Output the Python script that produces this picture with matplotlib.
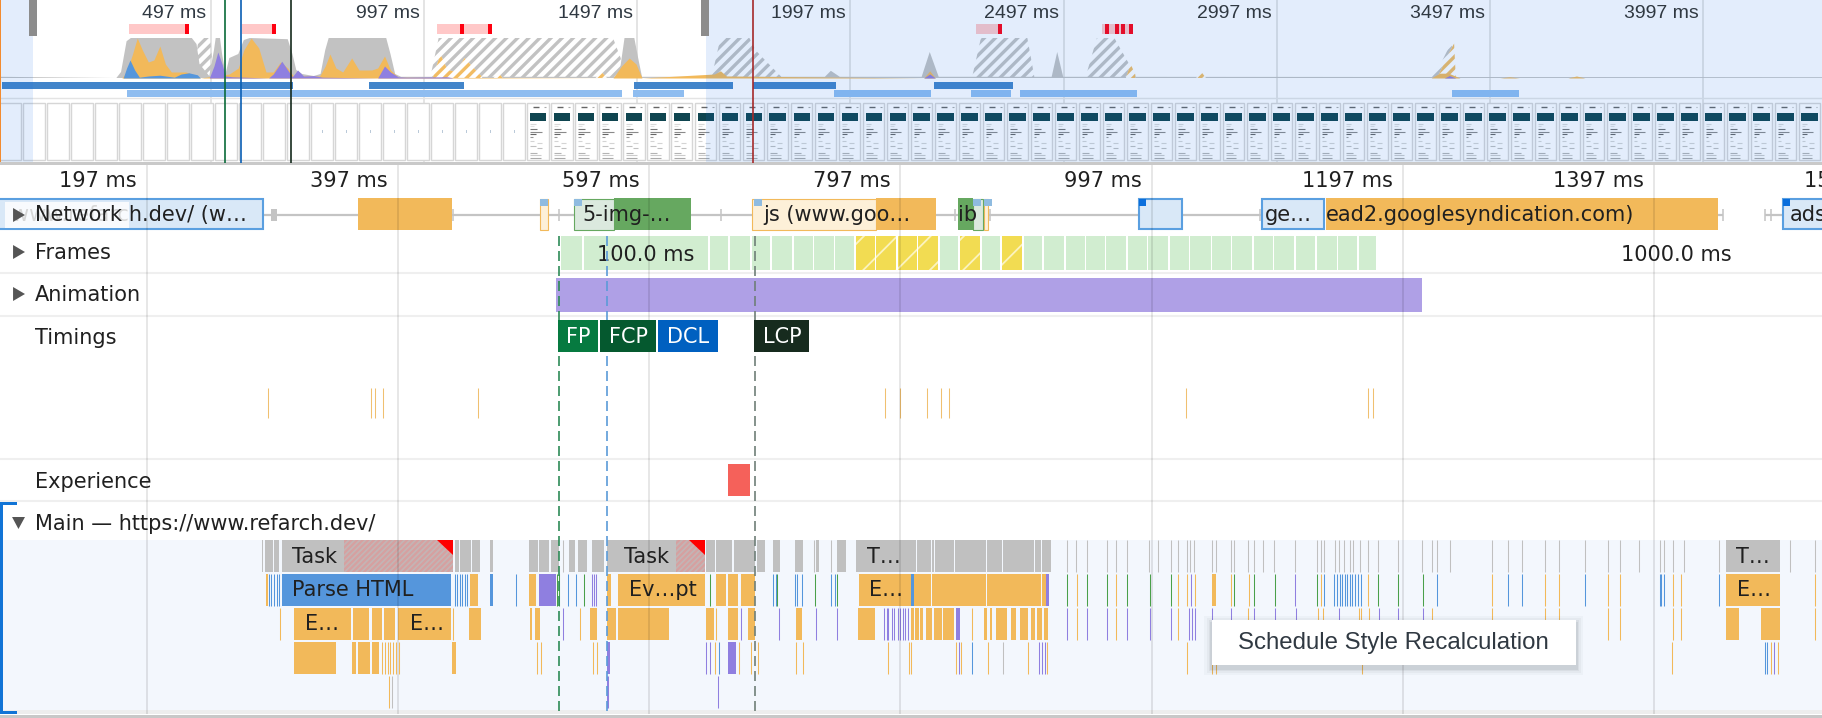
# devtools performance panel, overview strip + flame chart
import matplotlib as mp
mp.use('Agg')
import matplotlib.pyplot as plt
from matplotlib.patches import Rectangle

# ---- overview (ms)
ov_ticks = [497, 997, 1497, 1997, 2497, 2997, 3497, 3997]
grey_t = [2, 275, 286, 299, 309, 452, 463, 470, 493, 504, 508, 518, 523, 531, 540, 561, 574, 588, 677, 688, 697, 711, 738, 754, 765, 773, 908, 918, 929, 943, 1454, 1467, 1490, 1499, 1508, 1937, 1951, 1972, 2164, 2183, 2204, 2469, 2482, 2496, 4276]
grey_v = [3, 0, 15, 92, 100, 100, 85, 35, 5, 70, 100, 100, 60, 10, 50, 60, 95, 100, 97, 60, 20, 10, 5, 10, 70, 100, 100, 60, 10, 3, 3, 100, 100, 50, 3, 3, 18, 3, 3, 65, 3, 3, 65, 3, 2]
hatch_t = [[463, 468, 495, 500, 504], [1011, 1031, 1440, 1458, 1467], [1672, 1692, 1760, 1774, 1801, 1835], [2282, 2303, 2412, 2428], [2548, 2575, 2616, 2664, 2667], [3359, 3379, 3407, 3415]]
hatch_v = [[60, 100, 100, 40, 0], [0, 100, 100, 50, 0], [5, 100, 100, 70, 40, 3], [0, 100, 100, 5], [0, 100, 100, 10, 0], [0, 30, 90, 20]]
hatch_o_t = [[1017, 1035, 1052, 1072, 1092, 1113, 1133], [1160, 1170, 1181], [1399, 1413, 1426], [2643, 2654, 2665], [2808, 2818, 2831], [3373, 3400, 3413, 3417]]
hatch_o_v = [[0, 60, 20, 15, 50, 25, 3], [0, 15, 0], [0, 15, 0], [0, 35, 10], [0, 18, 0], [0, 60, 87, 0]]
orange_t = [288, 299, 313, 324, 336, 350, 363, 377, 390, 404, 438, 465, 472, 540, 561, 574, 591, 609, 626, 643, 660, 677, 690, 718, 752, 765, 776, 790, 806, 827, 844, 874, 888, 904, 918, 936, 1440, 1460, 1478, 1494, 1508, 1678, 1692, 1706, 2169, 2183, 2196, 3359, 3379, 3400, 3427, 3520, 3543, 3566, 3680, 3700, 3720]
orange_v = [0, 15, 60, 100, 70, 40, 45, 80, 35, 15, 15, 5, 0, 10, 25, 70, 100, 75, 15, 15, 40, 25, 5, 5, 5, 30, 60, 25, 15, 50, 20, 20, 25, 55, 20, 2, 0, 30, 50, 35, 0, 10, 18, 5, 0, 18, 0, 0, 12, 12, 0, 0, 3, 0, 0, 5, 0]
purple_t = [493, 504, 513, 523, 531, 547, 632, 643, 663, 677, 688, 700, 714, 738, 758, 888, 904, 918, 936, 956, 1052, 1065, 2169, 2183, 2196, 3390, 3402, 3417]
purple_v = [0, 30, 65, 35, 5, 3, 0, 10, 42, 20, 3, 20, 5, 6, 2, 0, 30, 15, 3, 2, 3, 0, 0, 10, 0, 0, 6, 0]
blue_t = [291, 299, 307, 318, 329, 350, 377, 411, 427, 445, 465, 472]
blue_v = [0, 25, 45, 20, 2, 5, 7, 2, 10, 13, 8, 0]
long_tasks = [(305, 445), (569, 649.5), (1027, 1156.5), (2292, 2353), (2587.4, 2659.7)]
long_task_red = [(435.5, 445), (640, 649.5), (1082, 1091), (1147, 1156.5), (2343.5, 2353), (2594, 2604), (2617.4, 2627), (2631, 2642), (2650, 2659.7)]
ov_net_dark = [(6, 690), (868, 1091), (1489, 1722), (1768, 1963), (2193.5, 2379)]
ov_net_light = [(300.5, 1462), (1488, 1606), (1958, 2185), (2279, 2373), (2395, 2669), (3408, 3565)]
ov_marks = [(529.5, '#0a6b3a'), (567.7, '#0a5fb4'), (685, '#152a1d'), (1768, '#a52a2a')]
film_t = [0.2, 56.5, 112.8, 169, 225.3, 281.6, 337.9, 394.2, 450.4, 506.7, 563, 619.3, 675.6, 731.8, 788.1, 844.4, 900.7, 957, 1013.2, 1069.5, 1125.8, 1182.1,
          1238.4, 1294.6, 1350.9, 1407.2, 1463.5, 1519.8, 1576, 1632.3, 1688.6, 1744.9, 1801, 1857.4, 1913.7, 1970, 2026.3, 2082.6, 2138.8, 2195, 2251.4, 2307.7,
          2364, 2420.2, 2476.5, 2532.8, 2589, 2645.4, 2701.6, 2758, 2814.2, 2870.5, 2926.8, 2983, 3039.3, 3095.6, 3151.9, 3208.2, 3264.4, 3320.7, 3377, 3433.3,
          3489.6, 3545.8, 3602, 3658.4, 3714.7, 3771, 3827.2, 3883.5, 3939.8, 3996, 4052.4, 4108.6, 4164.9, 4221.2]
n_blank = 22

# ---- main timeline (ms)
main_ticks = [197, 397, 597, 797, 997, 1197, 1397, 1597]
net_whisker = [(289.5, 365), (440, 510), (516.3, 537.1), (630.6, 679.2), (825.4, 842.5), (867, 986.9), (1021.2, 1085), (1448.3, 1452.5), (1485.8, 1499.7)]
net_caps = [440.5, 525, 653.8, 840.2, 868, 1083.2, 1452.5, 1485.8, 1490.4]
net_blue = [(70, 289.5), (986.9, 1021.2), (1085, 1134.5), (1499.7, 1545)]
net_orange_pale = [(510, 516.3), (679.2, 777.8), (863.4, 867)]
net_orange = [(365, 440), (777.8, 825.4), (1136, 1448.3)]
net_green_pale = [(537.1, 569), (855, 862.4)]
net_green = [(569, 630.6), (842.5, 855)]
net_corner = [510, 537.1, 680.5, 855, 863.4]
net_corner_dark = [986.9, 1499.7]
frames_green = [(527, 543.5), (545, 643.8), (645.2, 660), (661.4, 677), (678.5, 693.4), (694.7, 710.9), (712.3, 727.2), (728.5, 743.8), (745.2, 760.2),
                (828.6, 842.5), (862, 876.3), (895.3, 909.6), (911.5, 927), (928.6, 944), (944.8, 960), (961, 977), (978, 993.2), (994.3, 1010.3), (1011.4, 1026.6),
                (1027.6, 1044), (1045.2, 1060.3), (1061.4, 1077.4), (1078.6, 1093.7), (1094.8, 1110.7), (1111.9, 1127.2), (1128.5, 1144.5), (1145.7, 1160.7), (1161.9, 1175.7)]
frames_yellow = [(761.4, 777), (777.4, 793.3), (794.8, 810.5), (811, 826.8), (844.4, 860.6), (878.2, 893.9)]
animation = (523, 1212.8)
timing_names = ['FP', 'FCP', 'DCL', 'LCP']
timing_spans = [(524.2, 556.1), (558, 602.4), (604.3, 651.9), (680.6, 724.6)]
timing_colors = ['#067a40', '#05592f', '#0060c0', '#172b1e']
timing_lines = [(525, '#2e8b57'), (563, '#5b9bd8'), (681.5, '#6f7f78')]
user_ticks = [293.4, 375.4, 378.6, 385, 460.6, 784.8, 796.8, 818.3, 829.4, 835.8, 1024.6, 1169.5, 1173.5]
layout_shift = (659.9, 676.9)

task_blocks = [(288.6, 289.6), (291, 297), (298, 302), (304.3, 440.9), (442.3, 445.5), (446.4, 454.8), (455.7, 462.2), (470, 472.3), (501, 508), (508.9, 517.2), (518.6, 525.1),
               (533.4, 538), (540.4, 547.3), (551, 561.2), (563.5, 641.7), (642.2, 649.2), (650.5, 663), (664.4, 681.5), (682.9, 689), (695.4, 701), (713, 719.5), (730, 732.4), (746.3, 753.3),
               (761.6, 809.8), (810.4, 821.4), (822, 823.7), (824.3, 833.9), (834.5, 839.9), (840.5, 852.9), (853.5, 865.4), (866, 878.3), (878.9, 896.8), (897.4, 903.3), (903.9, 909.3), (909.9, 916.6), (1454.8, 1497.4)]
task_long = [(353.9, 440.9), (618.6, 641.7)]
task_ticks = [527.9, 727.8, 741.7, 929.5, 936.5, 945.3, 961.9, 968.9, 977.7, 995.2, 1002.2, 1012.4, 1018.4, 1025.3, 1027.6, 1030.9, 1045.2, 1048.5, 1060, 1062.4, 1073.9, 1078.5, 1085.5, 1094.7,
              1111, 1128.5, 1131.8, 1134.1, 1143.3, 1146.6, 1150.3, 1154.9, 1157.2, 1163.3, 1169.7, 1177.1, 1193.3, 1212.8, 1220.6, 1224.3, 1235, 1268.3, 1281.3, 1292.4, 1310, 1321.5, 1342.3,
              1360.9, 1370.1, 1384.9, 1401.6, 1404.8, 1412.7, 1421, 1448.8, 1505.7, 1525.2]

r1_orange = [(291.9, 293.7), (454.3, 460.3), (501, 506.6), (563.5, 566.8), (572.3, 641.7), (650, 658.4), (659.8, 667.7), (669.9, 681.5), (763.9, 805.5), (808, 821.4), (822, 833.9), (834.5, 852.9),
             (853.5, 865.4), (866, 896.8), (897.4, 909.3), (909.9, 912.9), (1044.8, 1048.5), (1454.8, 1497.4)]
r1_blue = [(304.3, 439), (470, 472.3), (805.5, 807.8)]
r1_purple = [(508.9, 522.8), (912.9, 915.6)]
r1_orange_ticks = [937.4, 968.9, 1018.4, 1025.3, 1031.3, 1060, 1074.4, 1131.8, 1169.7, 1268.3, 1310, 1321.5, 1360.9, 1370.1, 1412.7, 1418.8, 1525.2]
r1_blue_ticks = [294.2, 296, 297.9, 300.2, 302, 442.3, 444, 446, 448, 450, 451.5, 490.9, 532.5, 539, 695.4, 698, 713, 715, 718.5, 741.7, 745, 1134.1, 1142.4, 1144.5, 1147, 1149, 1151, 1153, 1155,
                 1157, 1159, 1161.5, 1164, 1224.3, 1281.3, 1292.4, 1342.3, 1401.6, 1403, 1404.9, 1448.8]
r1_purple_ticks = [551, 552.9, 554.7, 1028.6, 1111]
r1_green_ticks = [523.5, 525.5, 545, 645.4, 699.1, 728.7, 746.3, 929.5, 945.3, 961.9, 977.7, 995.7, 1012.4, 1062.4, 1079, 1095.2, 1128.5, 1177.1, 1193.3, 1213.2]

r2_orange = [(314.1, 359.4), (361.3, 373.8), (376.1, 384), (385.8, 394.6), (396.9, 439), (453.4, 463.1), (502, 503.8), (505.7, 510.3), (549.6, 555.2), (563.5, 570.5), (572.3, 613), (642.2, 648.2),
             (659.8, 667.7), (676, 681.5), (714, 718.5), (763.5, 776.4), (805.5, 808), (809, 811.5), (812.5, 815), (817, 822.5), (824, 830), (831, 840), (863.4, 866), (868, 870), (873, 882), (885, 889),
             (892, 899), (901, 904), (905.5, 910), (911, 914.3), (1454.8, 1465), (1482.1, 1497.4)]
r2_purple = [(841.6, 844.8)]
r2_orange_ticks = [303, 440.9, 541.8, 650, 854.1, 937.4, 968.9, 1018.4, 1073.9, 1129.5, 1133.2, 1161.9, 1164.2, 1170.2, 1220.6, 1268.3, 1310, 1321.5, 1360.9, 1370.1, 1412.7, 1418.8, 1525.2]
r2_purple_ticks = [527.9, 669.9, 700, 730.1, 746.3, 784.3, 786, 787.5, 790, 792, 795, 797, 799, 801, 803, 929.5, 945.3, 961.9, 977.7, 995.7, 1012.4, 1026.7, 1029, 1031.3, 1044.8, 1060, 1079, 1095.2,
                   1112.3, 1146.1, 1178, 1193.3, 1213.2]

r3_orange = [(314.1, 347.4), (360.4, 363.1), (365, 374.2), (376.1, 381.6), (440, 442.7)]
r3_purple = [(563.5, 565.9), (659.8, 665.8)]
r3_orange_ticks = [384.4, 386.3, 388.6, 390.9, 393.2, 395.5, 397.8, 507.5, 510.8, 552, 555.2, 649.2, 668.6, 677.8, 683.8, 714, 719.5, 787, 804.2, 805.5, 841.6, 845.3, 867, 899, 913.8, 1024.9, 1044.8, 1048.5,
                   1164.6, 1411.8, 1490.4, 1496]
r3_purple_ticks = [642.2, 645, 843.9, 907.3, 910.1, 911.9, 1492.8]
r3_blue_ticks = [652.4, 854.1, 1485.8, 1487]
r3_grey_ticks = [878.6]

r4_orange_ticks = [389.5]
r4_grey_ticks = [392.3]
r4_purple_ticks = [563.5, 564.4, 651.9]

GREY, ORANGE, BLUE, PURPLE, GREEN = '#c0c0c0', '#f2b95a', '#5596dc', '#8f7fe0', '#4aa04a'
UI = 'DejaVu Sans'
INK = '#202020'
ROW0, ROW1, ROW2, ROW3, ROW4 = (540, 572), (574, 606), (608, 640), (642, 674), (676, 708)
H = 718.0


def bars(ax, spans, y, color, z=2, **kw):
    ax.broken_barh([(a, b - a) for a, b in spans], (y[0], y[1] - y[0]), facecolors=color, linewidth=0, zorder=z, **kw)


def ticks(ax, xs, y, color, z=2, lw=0.75):
    ax.vlines(xs, y[0], y[1], colors=color, linewidth=lw, zorder=z)


def pane(y0, y1, xlim, ylim, z):
    ax = fig.add_axes([0, 1 - y1 / H, 1, (y1 - y0) / H])
    ax.set_xlim(*xlim)
    ax.set_ylim(*ylim)
    ax.axis('off')
    ax.set_zorder(z)
    return ax


fig = plt.figure(figsize=(18.22, 7.18), dpi=100)
OV = (2.05, 4276)
MAIN = (79.9, 1531)

# ------------ overview
ax_ov = pane(0, 165, OV, (165, 0), 1)
ax_cpu = pane(38, 78, OV, (0, 100), 2)
ax_ovt = pane(0, 165, OV, (165, 0), 3)

for t in ov_ticks:
    ax_ov.vlines(t, 0, 163, colors='#dcdcdc', linewidth=1.1, zorder=1)

bars(ax_ov, long_tasks, (24, 34), '#ffc8c8')
bars(ax_ov, long_task_red, (24, 34), '#ff0010', z=3)
bars(ax_ov, ov_net_dark, (82, 89), '#4285ca')
bars(ax_ov, ov_net_light, (90, 97), '#8fbdf0')
ax_ov.hlines(97.5, *OV, colors='#e4e4e4', linewidth=1)

# thumbnails
fw = 50.4
for i, t in enumerate(film_t):
    ax_ov.add_patch(Rectangle((t, 102.5), fw, 57, facecolor='white', edgecolor='#d6d6d6', linewidth=1, zorder=2))
    if i < n_blank:
        if i > 12:
            ax_ov.plot([t + 25, t + 25], [130, 132], color='#b8c8d8', lw=0.7, zorder=3)
        continue
    ax_ov.add_patch(Rectangle((t + 6, 113), fw - 12, 8, facecolor='#0f4550', linewidth=0, zorder=3))
    ax_ov.hlines(106.5, t + 14, t + 28, colors='#666666', linewidth=1, zorder=3)
    ax_ov.hlines(106.5, t + 40, t + 44, colors='#aaaaaa', linewidth=0.8, zorder=3)
    for y, c, a, b in [(124, '#d8d8d8', 8, 20), (126, '#e2e2e2', 8, 16), (129, '#777777', 8, 24), (131.5, '#8a8a8a', 8, 34), (134, '#666666', 8, 20), (136.5, '#999999', 8, 13),
                       (141, '#d4d4d4', 8, 16), (143, '#d4d4d4', 24, 36), (146, '#c0c0c0', 8, 20), (148, '#c0c0c0', 24, 36), (152.5, '#b4b4b4', 8, 24), (154.5, '#cccccc', 8, 32), (158, '#aaaaaa', 8, 32)]:
        ax_ov.hlines(y, t + a, t + b, colors=c, linewidth=0.8, zorder=3)

# activity
mp.rcParams['hatch.linewidth'] = 2.4
ax_cpu.fill_between(grey_t, 0, grey_v, color='#c2c2c2', linewidth=0, zorder=1)
for xs, vs in zip(hatch_t, hatch_v):
    ax_cpu.fill_between(xs, 0, vs, facecolor='none', edgecolor='#c2c2c2', hatch='///', linewidth=0, zorder=1)
for xs, vs in zip(hatch_o_t, hatch_o_v):
    ax_cpu.fill_between(xs, 0, vs, facecolor='white', edgecolor=ORANGE, hatch='///', linewidth=0, zorder=2, alpha=0.95)
ax_cpu.fill_between(orange_t, 0, orange_v, color=ORANGE, linewidth=0, zorder=3)
ax_cpu.fill_between(blue_t, 0, blue_v, color=BLUE, linewidth=0, zorder=4)
ax_cpu.fill_between(purple_t, 0, purple_v, color=PURPLE, linewidth=0, zorder=5)

# selection tint, handles, markers, labels on top
ax_ovt.add_patch(Rectangle((2.05, 0), 77.4, 163, facecolor='#1a73e8', alpha=0.12, linewidth=0, zorder=1))
ax_ovt.add_patch(Rectangle((1657, 0), 2700, 163, facecolor='#1a73e8', alpha=0.12, linewidth=0, zorder=1))
bars(ax_ovt, [(70, 89), (1647, 1666)], (0, 36), '#8c8c8c', z=2)
bars(ax_ovt, [(2.05, 5.5)], (0, 163), '#f28b30', z=2)
for t, c in ov_marks:
    ax_ovt.vlines(t, 0, 163, colors=c, linewidth=1.2, zorder=4)
for t in ov_ticks:
    ax_ovt.text(t - 11, 13, f'{t} ms', ha='right', va='center', fontsize=14, family='Liberation Sans', color='#303942', zorder=5)
bars(ax_ovt, [OV], (162, 165), '#c9c9c9', z=3)

# ------------ main timeline
ax = pane(165, 718, MAIN, (718, 165), 4)

for y in [272.5, 315.5, 459, 501]:
    ax.hlines(y, *MAIN, colors='#efefef', linewidth=1.5, zorder=1)

bars(ax, [MAIN], (540, 710), '#f3f7fd', z=0)
bars(ax, [MAIN], (710, 714), '#ededed', z=0)
bars(ax, [MAIN], (714.5, 718), '#c8c8c8', z=9)

for t in main_ticks:
    ax.text(t - 8, 181, f'{t} ms', ha='right', va='center', fontsize=15, family=UI, color=INK, clip_on=True)
    ax.vlines(t, 165, 714, colors='#000000', alpha=0.12, linewidth=1.1, zorder=6)

# network row
NET = (198, 230)
for a, b in net_whisker:
    ax.hlines(215, a, b, colors='#c4c4c4', linewidth=1.6, zorder=1)
ax.vlines(net_caps, 209, 221, colors='#c4c4c4', linewidth=1.1, zorder=1)
bars(ax, [(295.6, 300.7)], (209, 221), '#c4c4c4', z=1)
for a, b in net_blue:
    ax.add_patch(Rectangle((a, 199), b - a, 30, facecolor='#d9e8f7', edgecolor='#5a9fe0', linewidth=1.5, zorder=2))
for a, b in net_orange_pale:
    ax.add_patch(Rectangle((a, 199), b - a, 31, facecolor='#fdf0d8', edgecolor=ORANGE, linewidth=0.8, zorder=2))
for a, b in net_green_pale:
    ax.add_patch(Rectangle((a, 199), b - a, 31, facecolor='#dbe9de', edgecolor='#66a860', linewidth=0.8, zorder=2))
bars(ax, net_orange, NET, ORANGE, z=3)
bars(ax, net_green, NET, '#66a860', z=3)
bars(ax, [(a, a + 6.2) for a in net_corner], (199, 206), '#8fbbe0', z=4)
bars(ax, [(a, a + 5.5) for a in net_corner_dark], (199, 206), '#0a6edc', z=4)
for t, s in [(544.1, '5-img-…'), (687.5, 'js (www.goo…'), (842.5, 'ib'), (1086.9, 'ge…'), (1136, 'ead2.googlesyndication.com)'), (1505.7, 'ads')]:
    ax.text(t, 215, s, va='center', fontsize=15, family=UI, color=INK, zorder=5, clip_on=True)
ax.text(276.5, 215, 'www.refarch.dev/ (w…', ha='right', va='center', fontsize=15, family=UI, color=INK, zorder=5)
ax.add_patch(Rectangle((83.9, 202), 98.7, 26, facecolor='white', alpha=0.82, linewidth=0, zorder=6))

# frames
FR = (236, 270)
bars(ax, frames_green, FR, '#d1edd0')
mp.rcParams['hatch.linewidth'] = 1.3
for a, b in frames_yellow:
    ax.add_patch(Rectangle((a, 236), b - a, 34, facecolor='#f2dc52', edgecolor='#fbf3c0', hatch='/', linewidth=0, zorder=2))
ax.text(555.7, 255, '100.0 ms', va='center', fontsize=15, family=UI, color=INK, zorder=5)
ax.text(1371, 255, '1000.0 ms', va='center', fontsize=15, family=UI, color=INK, zorder=5)

# animation, timings, experience
bars(ax, [animation], (278, 312), '#afa0e6')
for name, (a, b), c in zip(timing_names, timing_spans, timing_colors):
    bars(ax, [(a, b)], (320, 352), c, z=8)
    ax.text((a + b) / 2, 337, name, ha='center', va='center', fontsize=15, family=UI, color='white', zorder=8)
for t, c in timing_lines:
    ax.vlines(t, 236, 714, colors=c, linewidth=1.2, linestyles=(0, (6, 3)), zorder=7)
ticks(ax, user_ticks, (388, 418), '#f0c070')
bars(ax, [layout_shift], (464, 496), '#f5615a')

# flame rows
mp.rcParams['hatch.linewidth'] = 1.3
bars(ax, task_blocks, ROW0, GREY)
ticks(ax, task_ticks, ROW0, GREY)
for a, b in task_long:
    ax.add_patch(Rectangle((a, 540), b - a, 32, facecolor='#d6a0a0', edgecolor='#c4b4b4', hatch='//////', linewidth=0, zorder=3))
    ax.fill([b - 13, b, b], [540, 540, 555], color='#ff0000', linewidth=0, zorder=4)

bars(ax, r1_orange, ROW1, ORANGE)
bars(ax, r1_blue, ROW1, BLUE)
bars(ax, r1_purple, ROW1, PURPLE)
ticks(ax, r1_orange_ticks, ROW1, ORANGE)
ticks(ax, r1_blue_ticks, ROW1, BLUE)
ticks(ax, r1_purple_ticks, ROW1, PURPLE)
ticks(ax, r1_green_ticks, ROW1, GREEN)

bars(ax, r2_orange, ROW2, ORANGE)
bars(ax, r2_purple, ROW2, PURPLE)
ticks(ax, r2_orange_ticks, ROW2, ORANGE)
ticks(ax, r2_purple_ticks, ROW2, PURPLE)

bars(ax, r3_orange, ROW3, ORANGE)
bars(ax, r3_purple, ROW3, PURPLE)
ticks(ax, r3_orange_ticks, ROW3, ORANGE)
ticks(ax, r3_purple_ticks, ROW3, PURPLE)
ticks(ax, r3_blue_ticks, ROW3, BLUE)
ticks(ax, r3_grey_ticks, ROW3, GREY)

ticks(ax, r4_orange_ticks, ROW4, ORANGE)
ticks(ax, r4_grey_ticks, ROW4, GREY)
ticks(ax, r4_purple_ticks, ROW4, PURPLE)

for t, y, s in [(312.2, 557, 'Task'), (576.5, 557, 'Task'), (770.4, 557, 'T…'), (1462.7, 557, 'T…'),
                (312.7, 590.5, 'Parse HTML'), (581.1, 590.5, 'Ev…pt'), (771.8, 590.5, 'E…'), (1463.6, 590.5, 'E…'),
                (322.9, 624.5, 'E…'), (406.2, 624.5, 'E…')]:
    ax.text(t, y, s, va='center', fontsize=15, family=UI, color=INK, zorder=5)

# left column labels
for y, s in [(215, 'Network'), (253, 'Frames'), (295, 'Animation'), (338, 'Timings'), (482, 'Experience'), (524, 'Main — https://www.refarch.dev/')]:
    ax.text(107.8, y, s, va='center', fontsize=15, family=UI, color=INK, zorder=8)
for y in [215, 252, 294]:
    ax.fill([90.3, 90.3, 99.8], [y - 7, y + 7, y], color='#555555', linewidth=0, zorder=8)
ax.fill([89.5, 99.8, 94.6], [517, 517, 529], color='#555555', linewidth=0, zorder=8)

# thread bracket
bars(ax, [(79.9, 81.9)], (502, 714), '#1174d6', z=8)
bars(ax, [(79.9, 93.4)], (502, 504.5), '#1174d6', z=8)
bars(ax, [(79.9, 93.4)], (710.5, 714), '#1174d6', z=8)

# tooltip
for d, al in [(7, 0.03), (5, 0.04), (3, 0.06), (1.5, 0.08)]:
    ax.add_patch(Rectangle((1044.8 - d * 0.8, 620 - d + 3), 290.6 + 2 * d * 0.8, 45 + 2 * d, facecolor='#303942', alpha=al, linewidth=0, zorder=10))
ax.add_patch(Rectangle((1044.8, 620), 290.6, 45, facecolor='white', linewidth=0, zorder=11))
ax.text(1066, 643, 'Schedule Style Recalculation', va='center', fontsize=17.3, family='Liberation Sans', color='#303942', zorder=12)

fig.savefig('out.png', dpi=100)
